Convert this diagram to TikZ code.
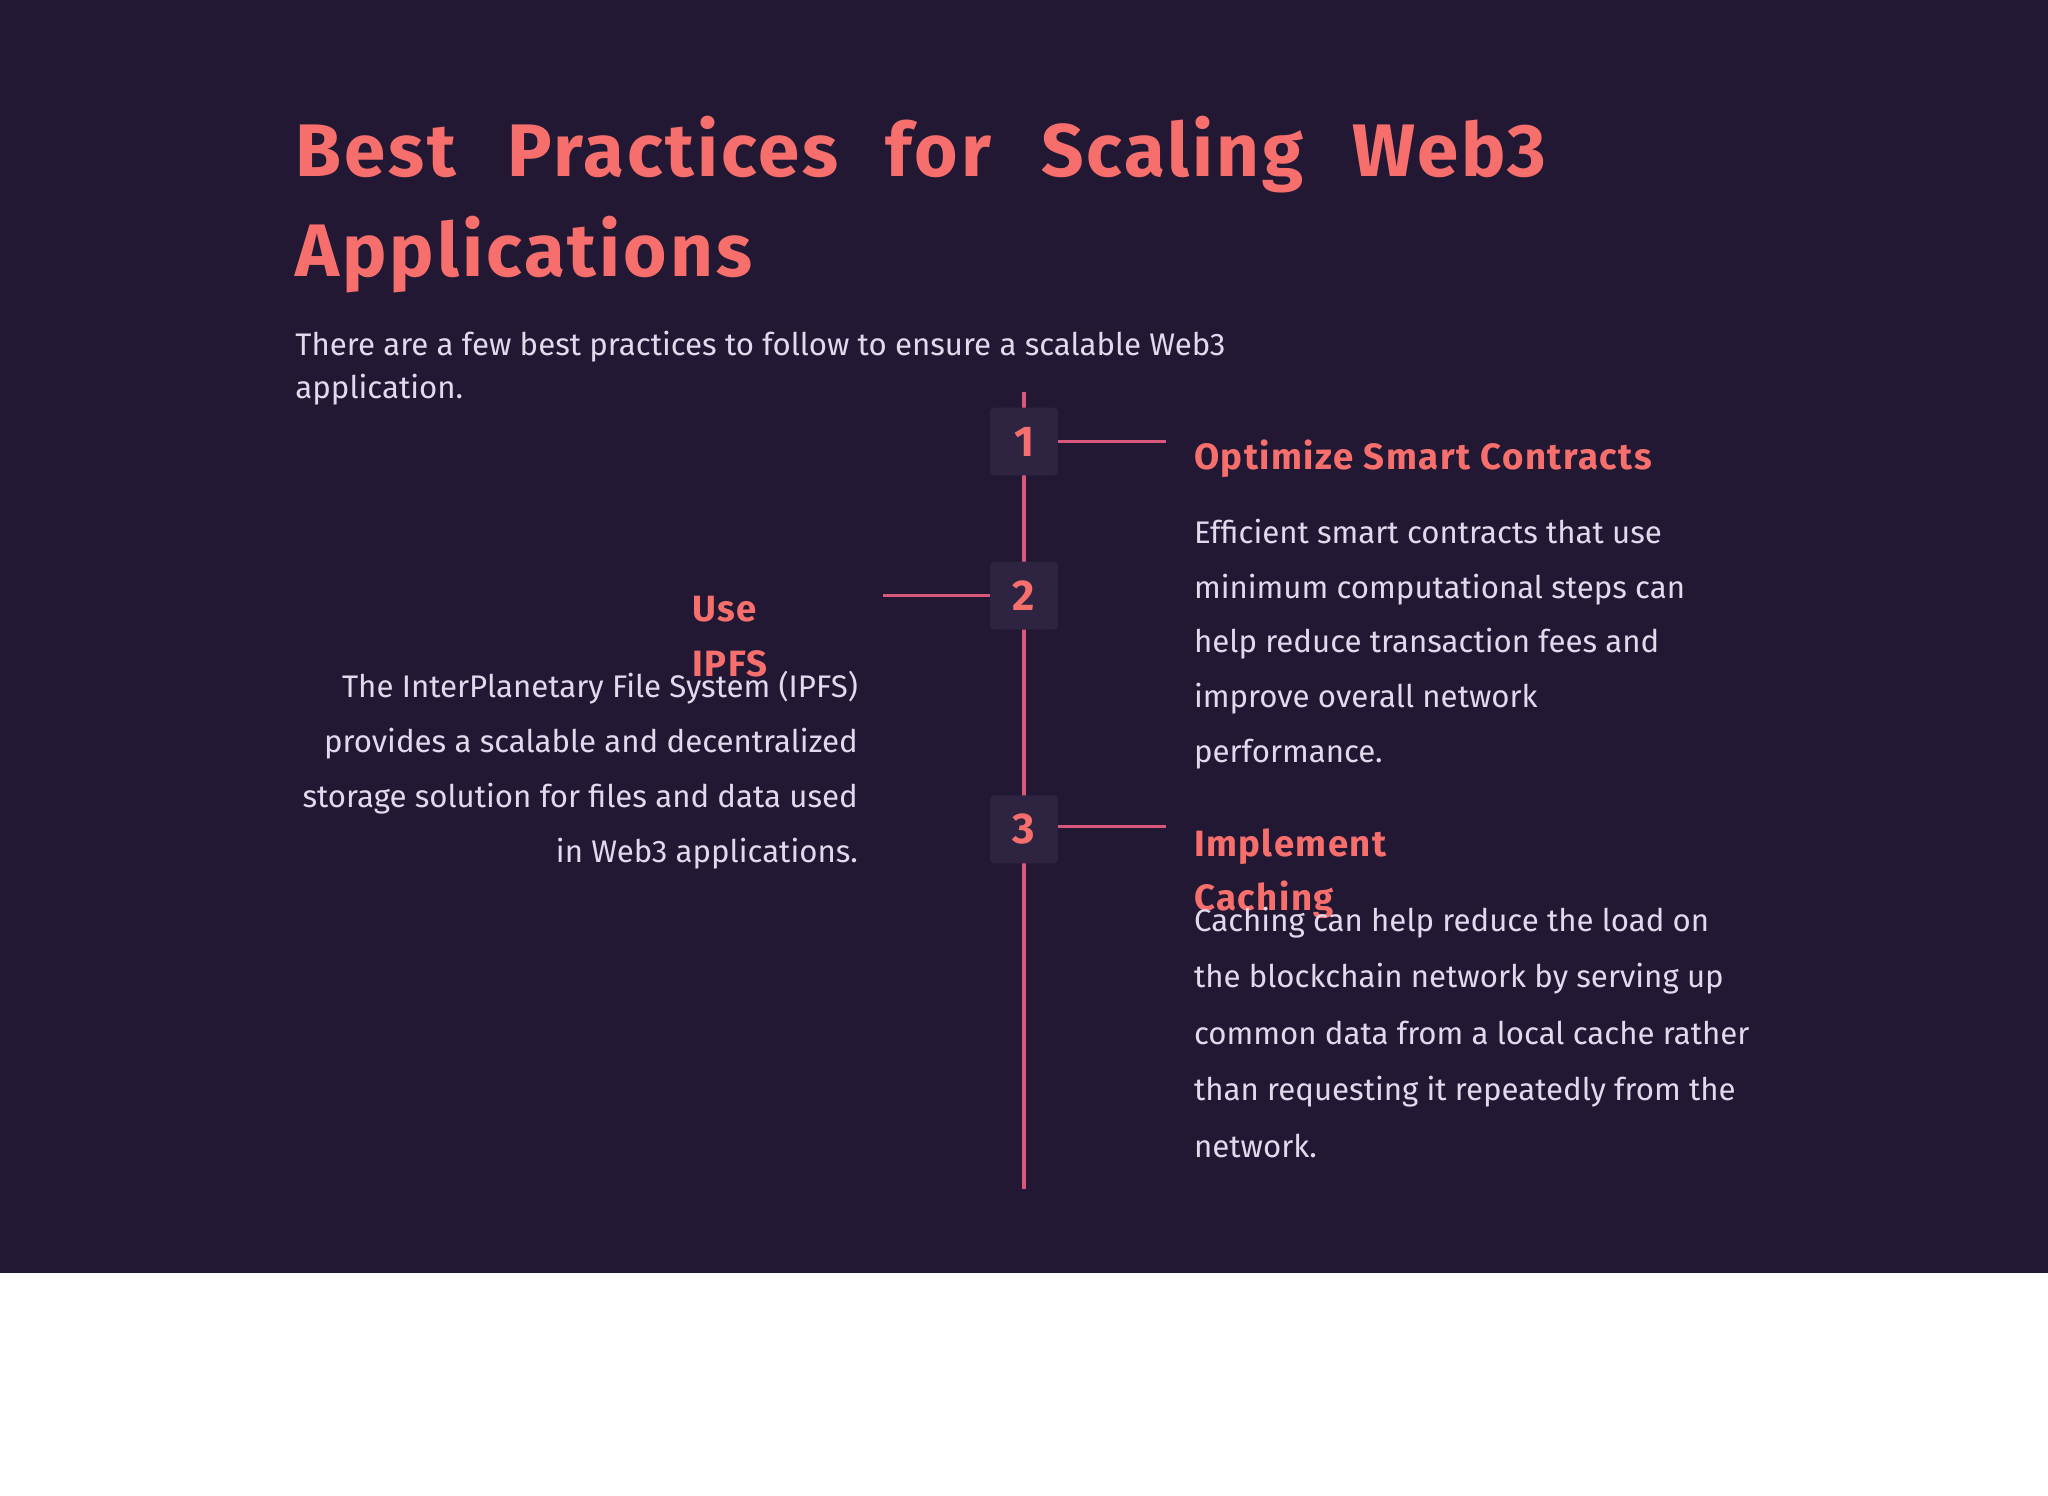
\documentclass[tikz,border=0pt]{standalone}
\usepackage{fontspec}
\setmainfont{Fira Sans}
\newfontfamily\headfont[LetterSpace=4]{Fira Sans}
\definecolor{bg}{HTML}{221833}
\definecolor{salmon}{HTML}{F76F6C}
\definecolor{pale}{HTML}{E2D9EC}
\definecolor{linec}{HTML}{D9577A}
\definecolor{boxc}{HTML}{2E2442}
\begin{document}
\begin{tikzpicture}[x=1pt,y=-1pt,
  title/.style={anchor=base west,inner sep=0,text=salmon,font=\headfont\fontsize{57}{60}\selectfont\bfseries},
  body/.style={inner sep=0,text=pale,font=\fontsize{23.9}{42}\selectfont},
  head/.style={inner sep=0,text=salmon,font=\headfont\fontsize{28}{42}\selectfont\bfseries},
  numbox/.style={draw=none,fill=boxc,rounded corners=3pt,minimum size=52pt,text=salmon,font=\fontsize{33}{36}\selectfont\bfseries},
  conn/.style={draw=linec,line width=2pt}]
\useasboundingbox (0,0) rectangle (1568,1145);
\fill[white] (0,0) rectangle (1568,1145);
\fill[bg] (0,0) rectangle (1568,975);
\node[title] (t1) at (226,135) {Best};
\node[title] (t2) at (388,135) {Practices};
\node[title] (t3) at (678,135) {for};
\node[title] (t4) at (797,135) {Scaling};
\node[title] (t5) at (1035,135) {Web3};
\node[title] (t6) at (226,212) {Applications};
\node[body,anchor=north west,align=left,font=\fontsize{23.9}{33}\selectfont] (sub) at (226,253) {There are a few best practices to follow to ensure a scalable Web3\\application.};
\coordinate (top) at (784,300);
\coordinate (bot) at (784,910);
\draw[conn,line width=3pt] (top) -- (bot);
\node[numbox] (n1) at (784,338) {1};
\node[numbox] (n2) at (784,456) {2};
\node[numbox] (n3) at (784,635) {3};
\coordinate (e1) at (893,338);
\coordinate (e2) at (676,456);
\coordinate (e3) at (893,633);
\draw[conn] (n1.east) -- (e1);
\draw[conn] (n2.west) -- (e2);
\draw[conn] (n3.east |- e3) -- (e3);
\node[head,anchor=west] (h1) at (914,351) {Optimize Smart Contracts};
\node[body,anchor=north west,align=left] (b1) at (914,397) {Efficient smart contracts that use\\minimum computational steps can\\help reduce transaction fees and\\improve overall network\\performance.};
\node[head,anchor=north west,align=left] (h2) at (530,456) {Use\\IPFS};
\node[body,anchor=north east,align=right] (b2) at (657,514) {The InterPlanetary File System (IPFS)\\provides a scalable and decentralized\\storage solution for files and data used\\in Web3 applications.};
\node[head,anchor=north west,align=left] (h3) at (914,634) {Implement\\Caching};
\node[body,anchor=north west,align=left,font=\fontsize{23.9}{43.3}\selectfont] (b3) at (914,694) {Caching can help reduce the load on\\the blockchain network by serving up\\common data from a local cache rather\\than requesting it repeatedly from the\\network.};
\end{tikzpicture}
\end{document}
